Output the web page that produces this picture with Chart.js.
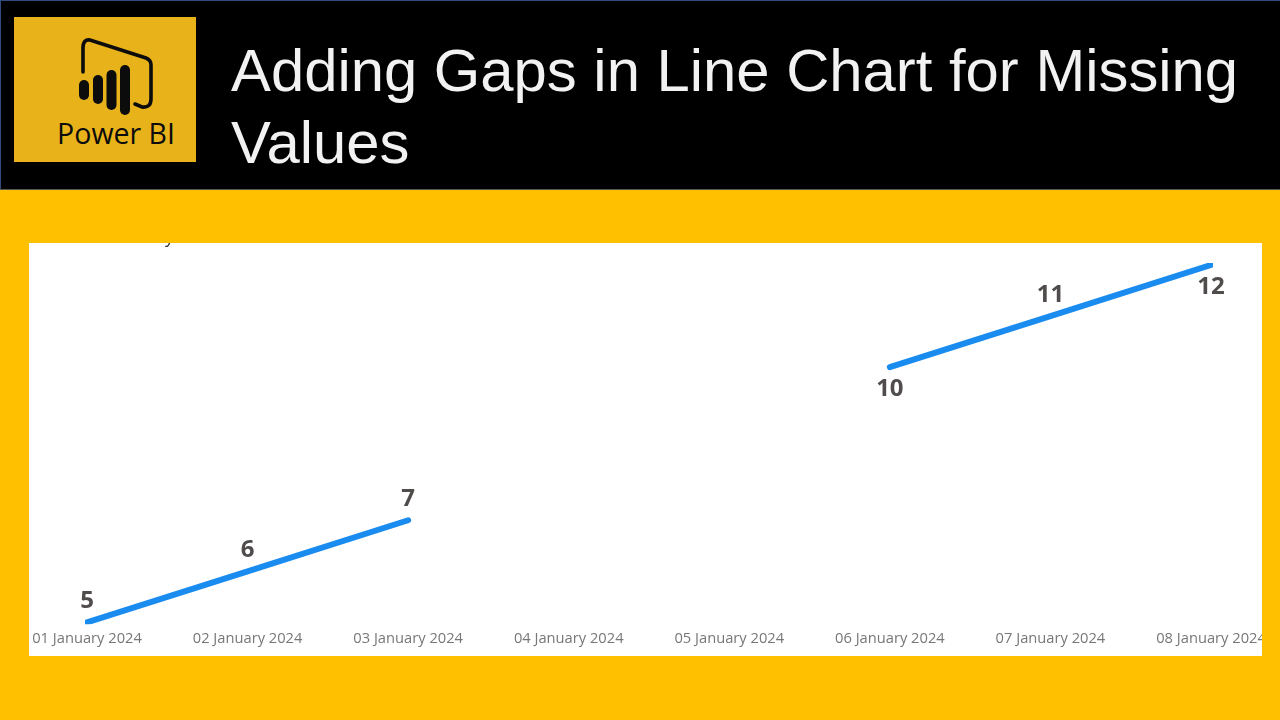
<!DOCTYPE html>
<html>
<head>
<meta charset="utf-8">
<script src="https://cdn.jsdelivr.net/npm/chart.js@4"></script>
<style>
  html, body { margin: 0; padding: 0; }
  body { width: 1280px; height: 720px; background: #ffc000; overflow: hidden; position: relative; }
  #header { position: absolute; left: 0; top: 0; width: 1279px; height: 189px; background: #000; border: solid #2f4a7d; border-width: 1px 0 0 1px; }
  #rule { position: absolute; left: 0; top: 189px; width: 1280px; height: 1px; background: #5a5a50; }
  #logo { position: absolute; left: 14px; top: 17px; width: 182px; height: 145px; }
  #title { position: absolute; left: 231px; top: 35px; width: 1040px; margin: 0; color: #f2f2f2; font: 400 59.8px/72px "Liberation Sans", Arial, sans-serif; }
  #panel { position: absolute; left: 29px; top: 243px; width: 1233px; height: 413px; background: #fff; overflow: hidden; }
  #wrap { position: absolute; left: 0; top: 0; width: 1300px; height: 413px; }
  #cutoff { position: absolute; left: 136px; top: -17px; color: #333; font: 400 18px/20px "Open Sans", sans-serif; }
</style>
</head>
<body>
<div id="header"></div>
<div id="rule"></div>
<svg id="logo" viewBox="14 17 182 145">
  <rect x="14" y="17" width="182" height="145" fill="#e8b31a"/>
  <path d="M83 72 V48 Q83 39 90 40 L146 58 Q151 60 151 65 V99 Q151 108 142 107 L135 104" fill="none" stroke="#0c0c0c" stroke-width="3.6" stroke-linecap="round"/>
  <rect x="79" y="80" width="10" height="20" rx="5" fill="#0c0c0c"/>
  <rect x="93" y="75" width="10" height="29" rx="5" fill="#0c0c0c"/>
  <rect x="106.500" y="70" width="10" height="40" rx="5" fill="#0c0c0c"/>
  <rect x="120" y="65" width="10" height="50" rx="5" fill="#0c0c0c"/>
  <text x="116" y="144" text-anchor="middle" font-family="Open Sans" font-size="28.500" fill="#0c0c0c">Power BI</text>
</svg>
<h1 id="title">Adding Gaps in Line Chart for Missing Values</h1>
<div id="panel">
  <div id="wrap"><canvas id="chart"></canvas></div>
  <div id="cutoff">y</div>
</div>

<script>
const dates = ['01 January 2024', '02 January 2024', '03 January 2024', '04 January 2024',
  '05 January 2024', '06 January 2024', '07 January 2024', '08 January 2024'];
const values = [5, 6, 7, null, null, 10, 11, 12];
// which points carry their label under the line
const labelsBelow = [false, false, false, false, false, true, false, true];

// value labels, Chart.js 4 has no datalabels built in
const valueLabels = {
  id: 'valueLabels',
  afterDatasetsDraw(chart) {
    const ctx = chart.ctx;
    const points = chart.getDatasetMeta(0).data;
    ctx.save();
    ctx.font = '700 24px "Open Sans"';
    ctx.fillStyle = '#504c4c';
    ctx.textAlign = 'center';
    ctx.textBaseline = 'middle';
    points.forEach((p, i) => {
      if (values[i] === null) return;
      ctx.fillText(values[i], p.x, p.y + (labelsBelow[i] ? 22 : -21));
    });
    ctx.restore();
  },
};

new Chart(document.getElementById('chart'), {
  type: 'line',
  data: {
    labels: dates,
    datasets: [{
      data: values,
      borderColor: '#1a8cf0',
      borderWidth: 6,
      borderCapStyle: 'round',
      borderJoinStyle: 'round',
      pointRadius: 0,
      spanGaps: false,
      clip: 2,
    }],
  },
  options: {
    responsive: true,
    maintainAspectRatio: false,
    animation: false,
    layout: { padding: { left: 58, right: 118, top: 22, bottom: 8 } },
    plugins: { legend: { display: false }, tooltip: { enabled: false } },
    scales: {
      x: {
        offset: false,
        border: { display: false },
        grid: { display: false },
        ticks: {
          autoSkip: false,
          maxRotation: 0,
          minRotation: 0,
          padding: 0,
          color: '#777777',
          font: { family: '"Open Sans"', size: 14.7 },
        },
      },
      y: { display: false, min: 5, max: 12 },
    },
  },
  plugins: [valueLabels],
});
</script>
</body>
</html>
